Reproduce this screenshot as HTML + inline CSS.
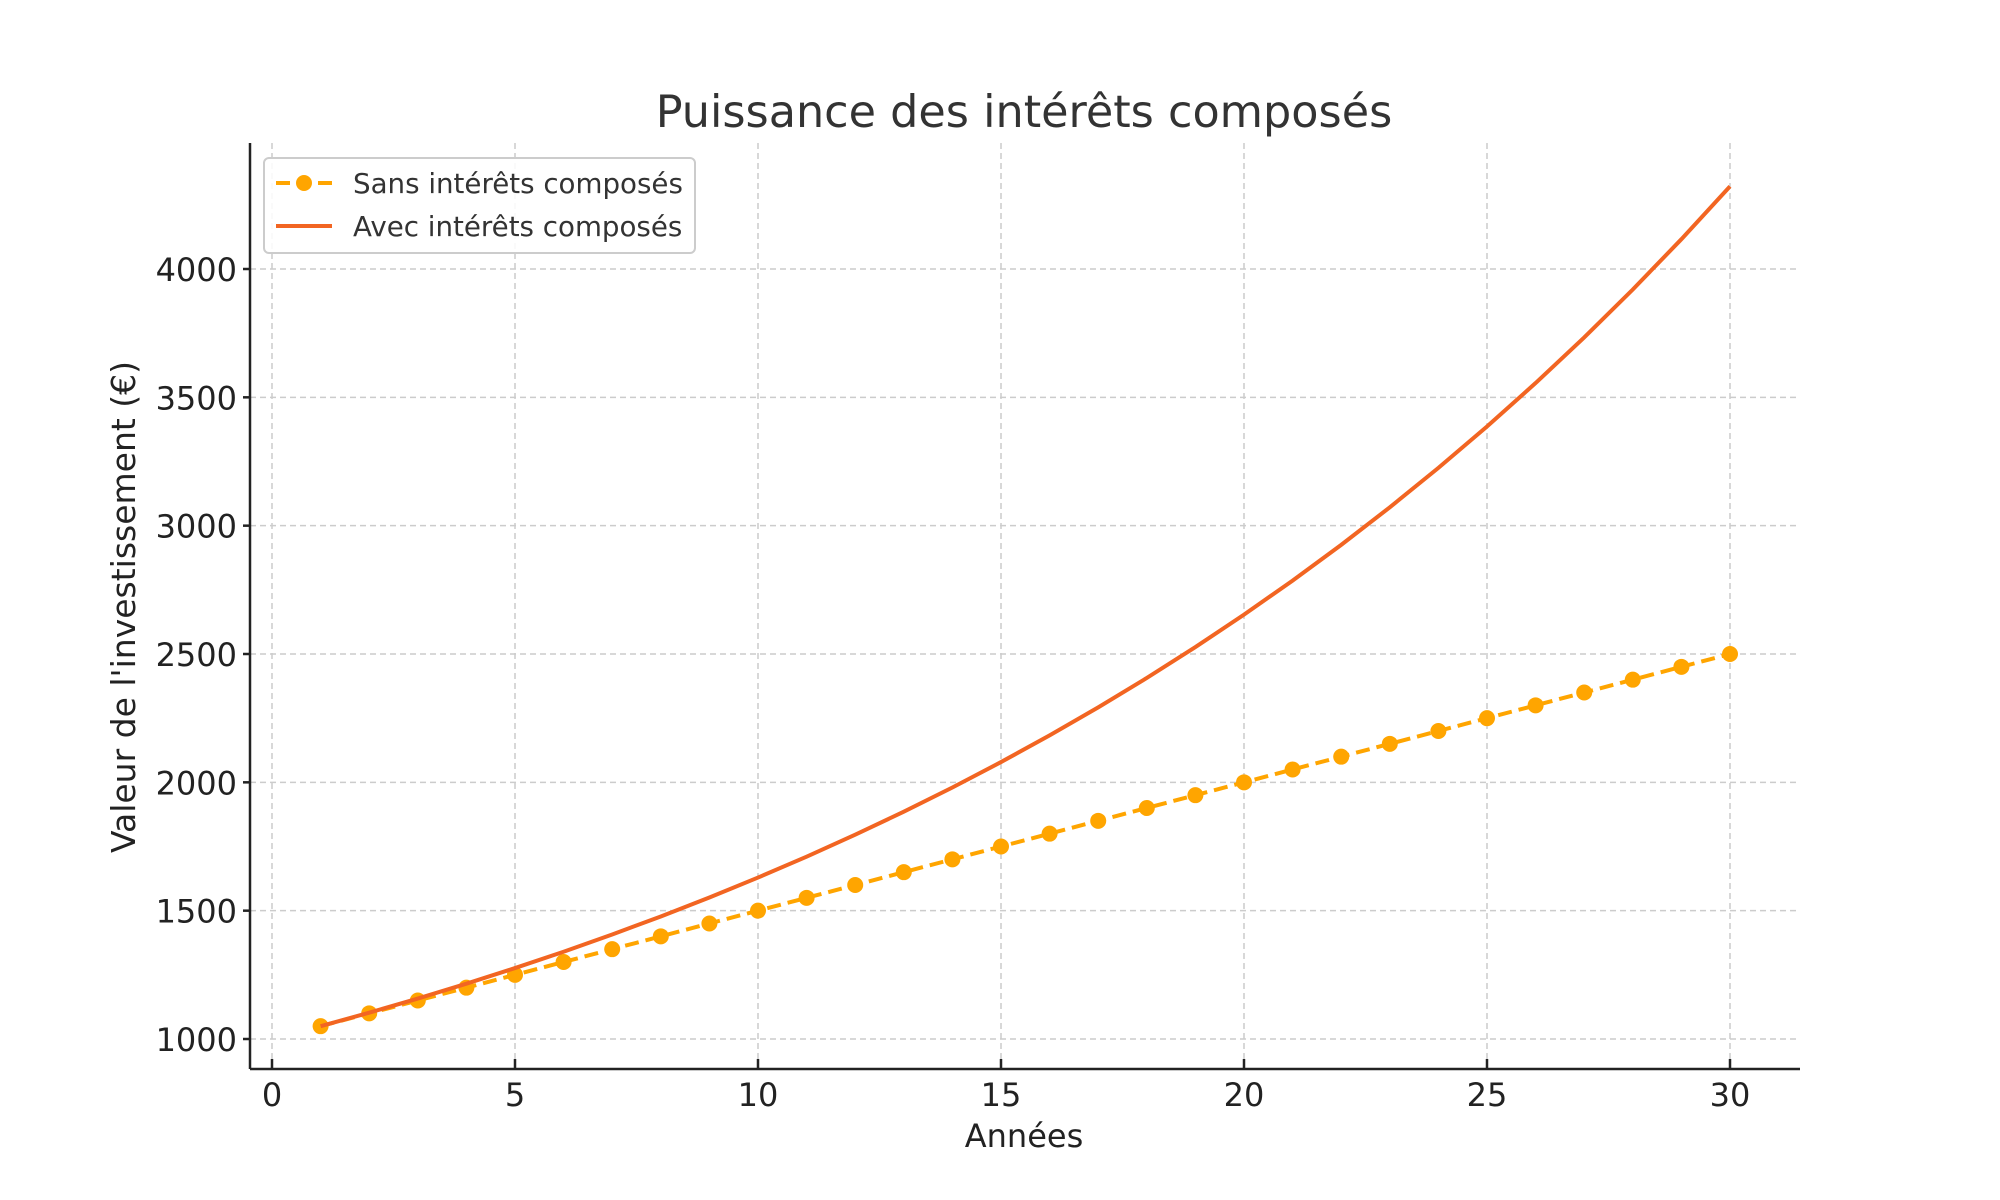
<!DOCTYPE html>
<html><head><meta charset="utf-8">
<style>
html,body{margin:0;padding:0;background:#fff;}
svg{display:block;font-family:"DejaVu Sans","Liberation Sans",sans-serif;}
</style></head>
<body>
<svg id="c" width="2000" height="1200" viewBox="0 0 2000 1200" xmlns="http://www.w3.org/2000/svg">
<rect width="2000" height="1200" fill="#fff"/>
<g id="grid"></g>
<g id="series"></g>
<line x1="250" y1="143" x2="250" y2="1069" stroke="#222" stroke-width="2.5"/>
<line x1="250" y1="1069" x2="1800" y2="1069" stroke="#222" stroke-width="2.5"/>
<g id="ticks"></g>
<text x="1024" y="127" font-size="44.5" text-anchor="middle" fill="#333">Puissance des intérêts composés</text>
<text x="1024" y="1147" font-size="32" text-anchor="middle" fill="#222">Années</text>
<text transform="translate(135,607) rotate(-90)" font-size="33" text-anchor="middle" fill="#222">Valeur de l'investissement (€)</text>
<rect x="264" y="158" width="431" height="95" rx="5" fill="#fff" fill-opacity="0.85" stroke="#ccc" stroke-width="2"/>
<line x1="276" y1="183" x2="332" y2="183" stroke="#FFA500" stroke-width="4" stroke-dasharray="14,7"/>
<circle cx="304" cy="183" r="8" fill="#FFA500"/>
<line x1="276" y1="226" x2="332" y2="226" stroke="#F26522" stroke-width="4"/>
<text x="353" y="193" font-size="27.7" fill="#333">Sans intérêts composés</text>
<text x="353" y="236" font-size="27.7" fill="#333">Avec intérêts composés</text>
</svg>
<script>
const NS="http://www.w3.org/2000/svg";
const X=n=>272+n*(1730-272)/30, Y=v=>1039-(v-1000)*(1039-269)/3000;
function el(t,a,p){const e=document.createElementNS(NS,t);for(const k in a)e.setAttribute(k,a[k]);p.appendChild(e);return e;}
const g=document.getElementById('grid'),tk=document.getElementById('ticks'),s=document.getElementById('series');
for(let n=0;n<=30;n+=5){const x=X(n);
 el('line',{x1:x,y1:143,x2:x,y2:1069,stroke:'#ccc','stroke-width':1.5,'stroke-dasharray':'6,4'},g);
 el('line',{x1:x,y1:1069,x2:x,y2:1059,stroke:'#222','stroke-width':2.5},tk);
 const t=el('text',{x:x,y:1106,'font-size':32,'text-anchor':'middle',fill:'#222'},tk);t.textContent=n;}
for(let v=1000;v<=4000;v+=500){const y=Y(v);
 el('line',{x1:250,y1:y,x2:1800,y2:y,stroke:'#ccc','stroke-width':1.5,'stroke-dasharray':'6,4'},g);
 el('line',{x1:243,y1:y,x2:250,y2:y,stroke:'#222','stroke-width':2.5},tk);
 const t=el('text',{x:237,y:y+12,'font-size':32,'text-anchor':'end',fill:'#222'},tk);t.textContent=v;}
let p1='',p2='';
for(let n=1;n<=30;n++){p1+=(n>1?'L':'M')+X(n)+','+Y(1000+50*n);p2+=(n>1?'L':'M')+X(n)+','+Y(1000*Math.pow(1.05,n));}
el('path',{d:p1,fill:'none',stroke:'#FFA500','stroke-width':4,'stroke-dasharray':'14,7'},s);
for(let n=1;n<=30;n++)el('circle',{cx:X(n),cy:Y(1000+50*n),r:8,fill:'#FFA500'},s);
el('path',{d:p2,fill:'none',stroke:'#F26522','stroke-width':4},s);
</script>
</body></html>
